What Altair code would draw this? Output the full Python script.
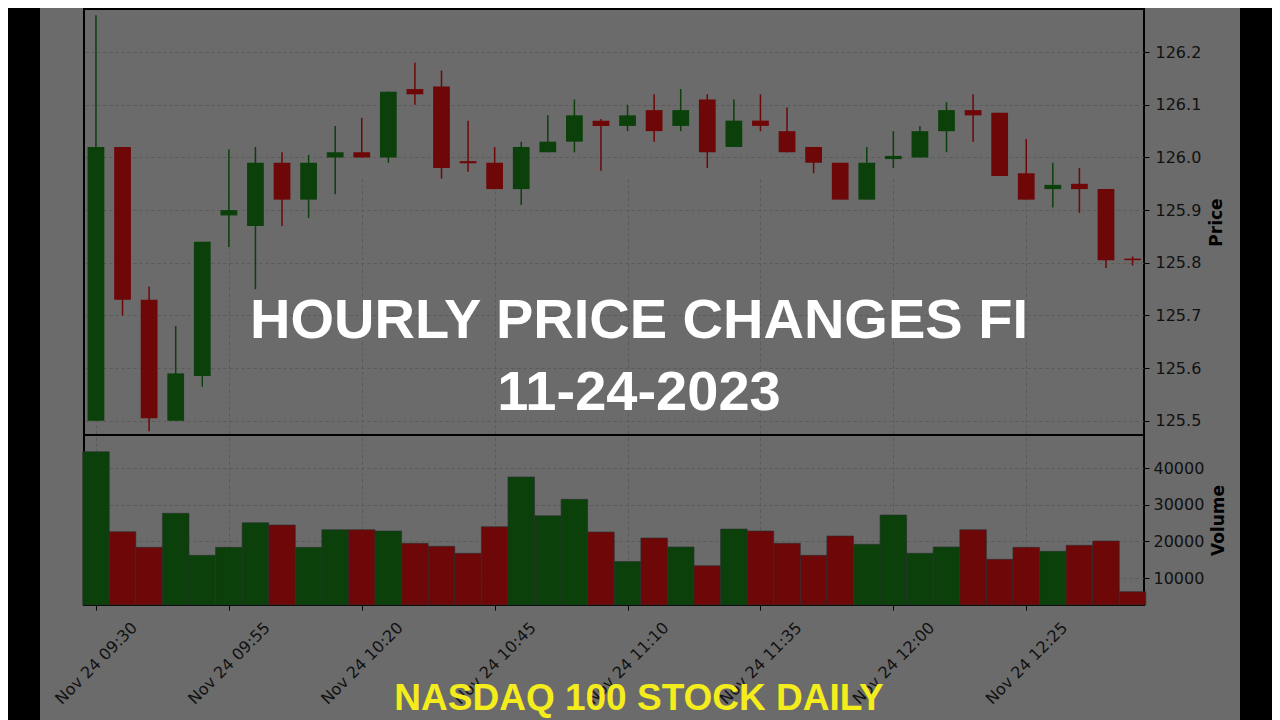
import json
import altair as alt
import pandas as pd

# ---------------- data ----------------
times = ["09:30", "09:35", "09:40", "09:45", "09:50", "09:55", "10:00", "10:05",
         "10:10", "10:15", "10:20", "10:25", "10:30", "10:35", "10:40", "10:45",
         "10:50", "10:55", "11:00", "11:05", "11:10", "11:15", "11:20", "11:25",
         "11:30", "11:35", "11:40", "11:45", "11:50", "11:55", "12:00", "12:05",
         "12:10", "12:15", "12:20", "12:25", "12:30", "12:35", "12:40", "12:45"]

opens = [125.50, 126.02, 125.73, 125.50, 125.585, 125.89, 125.87, 125.99,
         125.92, 126.00, 126.01, 126.00, 126.13, 126.135, 125.993, 125.99,
         125.94, 126.01, 126.03, 126.07, 126.06, 126.09, 126.06, 126.11,
         126.02, 126.07, 126.05, 126.02, 125.99, 125.92, 125.997, 126.00,
         126.05, 126.09, 126.085, 125.97, 125.94, 125.95, 125.94, 125.808]
highs = [126.27, 126.02, 125.755, 125.68, 125.84, 126.015, 126.02, 126.01,
         126.005, 126.06, 126.075, 126.125, 126.18, 126.165, 126.07, 126.02,
         126.03, 126.08, 126.11, 126.073, 126.10, 126.12, 126.13, 126.12,
         126.11, 126.12, 126.095, 126.02, 125.99, 126.02, 126.05, 126.06,
         126.105, 126.12, 126.085, 126.035, 125.99, 125.98, 125.94, 125.812]
lows = [125.50, 125.70, 125.48, 125.50, 125.565, 125.83, 125.75, 125.87,
        125.885, 125.93, 126.00, 125.99, 126.10, 125.96, 125.973, 125.94,
        125.91, 126.01, 126.01, 125.975, 126.05, 126.03, 126.05, 125.98,
        126.02, 126.05, 126.01, 125.97, 125.92, 125.92, 125.98, 126.00,
        126.01, 126.03, 125.965, 125.92, 125.905, 125.895, 125.79, 125.795]
closes = [126.02, 125.73, 125.505, 125.59, 125.84, 125.90, 125.99, 125.92,
          125.99, 126.01, 126.00, 126.125, 126.12, 125.98, 125.989, 125.94,
          126.02, 126.03, 126.08, 126.06, 126.08, 126.05, 126.09, 126.01,
          126.07, 126.06, 126.01, 125.99, 125.92, 125.99, 126.003, 126.05,
          126.09, 126.08, 125.965, 125.92, 125.948, 125.94, 125.805, 125.805]
volumes = [44450, 22630, 18370, 27650, 16190, 18370, 25080, 24460,
           18370, 23180, 23180, 22820, 19470, 18650, 16740, 23990,
           37550, 26990, 31460, 22550, 14500, 20910, 18460, 13360,
           23360, 22820, 19470, 16190, 21460, 19190, 27180, 16740,
           18460, 23180, 15100, 18370, 17280, 18920, 20090, 6270]

price_ticks = [125.5, 125.6, 125.7, 125.8, 125.9, 126.0, 126.1, 126.2]
volume_ticks = [10000, 20000, 30000, 40000]
x_tick_index = [0, 5, 10, 15, 20, 25, 30, 35]
x_tick_labels = ["Nov 24 09:30", "Nov 24 09:55", "Nov 24 10:20", "Nov 24 10:45",
                 "Nov 24 11:10", "Nov 24 11:35", "Nov 24 12:00", "Nov 24 12:25"]

title_lines = ["HOURLY PRICE CHANGES FI", "11-24-2023"]
footer_text = ["NASDAQ 100 STOCK DAILY"]

price_domain = [125.473, 126.282]
volume_domain = [2640, 49000]

# ---------------- styling ----------------
BG = "#6b6b6b"
GREEN = "#0b400b"
RED = "#6e0707"
W, H_PRICE, H_TOTAL = 1060, 426, 596
FONT = "DejaVu Sans"
BOLD = "Liberation Sans"

df = pd.DataFrame({
    "i": list(range(len(times))),
    "time": times,
    "open": opens, "high": highs, "low": lows, "close": closes,
    "volume": volumes,
})

base = alt.Chart(df).transform_calculate(
    dir="datum.close >= datum.open ? 'up' : 'down'"
)

label_expr = json.dumps(x_tick_labels) + "[round(datum.value / 5)]"

x_scale = alt.Scale(domain=[-0.45, 39.43], nice=False, zero=False)
x_axis = alt.Axis(
    values=x_tick_index, labelExpr=label_expr, title=None,
    labelAngle=315, labelAlign="center", labelBaseline="middle",
    labelPadding=53, labelFontSize=16, labelFont=FONT, labelColor="#111111",
    tickColor="#000000", tickSize=5, tickWidth=1, domain=False,
    grid=True, gridColor="#555555", gridDash=[3, 3], gridWidth=0.8,
)
color = alt.Color("dir:N", scale=alt.Scale(domain=["up", "down"], range=[GREEN, RED]), legend=None)

price_scale = alt.Scale(domain=price_domain, range=[H_PRICE, 0], nice=False, zero=False)
price_axis = alt.Axis(
    orient="right", values=price_ticks, format=".1f", title="Price",
    titleAngle=270, titleX=72, titleBaseline="middle", titleAlign="center",
    titleFont=FONT, titleFontSize=17, titleFontWeight="bold", titleColor="#000000",
    labelFontSize=16, labelFont=FONT, labelColor="#111111", labelPadding=6,
    tickColor="#000000", tickSize=5, tickWidth=1, domain=False,
    grid=True, gridColor="#555555", gridDash=[3, 3], gridWidth=0.8,
)

wicks = base.mark_rule(strokeWidth=1.5).encode(
    x=alt.X("i:Q", scale=x_scale, axis=x_axis),
    y=alt.Y("low:Q", scale=price_scale, axis=price_axis),
    y2="high:Q",
    color=color,
)
bodies = base.transform_calculate(
    x0="datum.i - 0.315", x1="datum.i + 0.315"
).mark_bar().encode(
    x=alt.X("x0:Q", scale=x_scale),
    x2="x1:Q",
    y=alt.Y("open:Q", scale=price_scale),
    y2="close:Q",
    color=color,
)
separator = alt.Chart(pd.DataFrame({"p": [price_domain[0]]})).mark_rule(
    color="#000000", strokeWidth=2
).encode(y=alt.Y("p:Q", scale=price_scale))

price_layer = alt.layer(wicks, bodies, separator)

volume_scale = alt.Scale(domain=volume_domain, range=[H_TOTAL, H_PRICE], nice=False, zero=False)
volume_axis = alt.Axis(
    orient="right", values=volume_ticks, format="d", title="Volume",
    titleAngle=270, titleX=74, titleBaseline="middle", titleAlign="center",
    titleFont=FONT, titleFontSize=17, titleFontWeight="bold", titleColor="#000000",
    labelFontSize=16, labelFont=FONT, labelColor="#111111", labelPadding=4,
    tickColor="#000000", tickSize=5, tickWidth=1, domain=False,
    grid=True, gridColor="#555555", gridDash=[3, 3], gridWidth=0.8,
)
vol_bars = base.transform_calculate(
    x0="datum.i - 0.5", x1="datum.i + 0.5"
).mark_bar(stroke="#2a3030", strokeWidth=0.6).encode(
    x=alt.X("x0:Q", scale=x_scale),
    x2="x1:Q",
    y=alt.Y("volume:Q", scale=volume_scale, axis=volume_axis),
    y2=alt.datum(volume_domain[0]),
    color=color,
)

# decorative overlays (black side bands and text)
bands = alt.Chart(pd.DataFrame({"k": [0]}))
left_band = bands.mark_rect(color="#000000").encode(
    x=alt.value(-76), x2=alt.value(-44), y=alt.value(-1), y2=alt.value(711))
right_band = bands.mark_rect(color="#000000").encode(
    x=alt.value(1156), x2=alt.value(1188), y=alt.value(-1), y2=alt.value(711))

t1 = alt.Chart(pd.DataFrame({"t": [title_lines[0]]})).mark_text(
    font=BOLD, fontSize=56, fontWeight="bold", color="#ffffff",
    align="center", baseline="alphabetic").encode(
    text="t:N", x=alt.value(555), y=alt.value(329))
t2 = alt.Chart(pd.DataFrame({"t": [title_lines[1]]})).mark_text(
    font=BOLD, fontSize=56, fontWeight="bold", color="#ffffff",
    align="center", baseline="alphabetic").encode(
    text="t:N", x=alt.value(555), y=alt.value(401))
foot = alt.Chart(pd.DataFrame({"t": footer_text})).mark_text(
    font=BOLD, fontSize=37, fontWeight="bold", color="#f4ec1c",
    align="center", baseline="alphabetic").encode(
    text="t:N", x=alt.value(555), y=alt.value(701))

chart = alt.layer(
    price_layer, vol_bars, left_band, right_band, t1, t2, foot
).resolve_scale(y="independent").properties(
    width=W, height=H_TOTAL, padding=0, background=BG
).configure_view(
    stroke="#000000", strokeWidth=2, fill=BG
)

chart.save("out.html", embed_options={"renderer": "svg", "actions": False})
